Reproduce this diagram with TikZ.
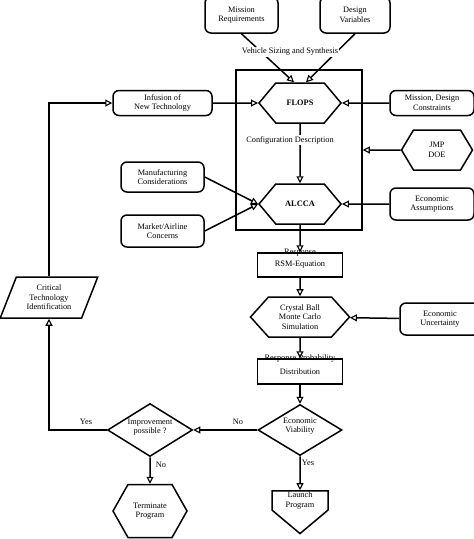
\documentclass[tikz,border=0pt]{standalone}
\usepackage{fontspec}
\setmainfont{Liberation Serif}
\usetikzlibrary{shapes.geometric,shapes.symbols,arrows.meta}

\begin{document}
\begin{tikzpicture}[x=1pt, y=-1pt, font=\fontsize{8.3}{9.5}\selectfont,
        every node/.style={align=center},
        rbox/.style={draw, line width=1.5pt, rounded corners=6pt, inner sep=1pt},
        sbox/.style={draw, line width=1.5pt, inner sep=1pt},
        hexa/.style={draw, line width=1.5pt, shape=signal, signal to=west and east, inner sep=1pt},
        decision/.style={draw, line width=1.5pt, shape=diamond, inner sep=0pt},
        arr/.style={line width=1.5pt, -{Triangle[open, length=7pt, width=7pt, line width=1.1pt]}},
        tag/.style={fill=white, inner sep=1pt}]
            \useasboundingbox (0, 0) rectangle (474, 539);

            % frame around sizing and costing
            \node[sbox, minimum width=126pt, minimum height=160pt] (frame) at (299, 150) {};

            \node[rbox, minimum width=73pt, minimum height=36pt] (mreq) at (241.5, 15) {Mission\\Requirements};
            \node[rbox, minimum width=70pt, minimum height=36pt] (dvar) at (355, 15) {Design\\Variables};
            \node[rbox, minimum width=99pt, minimum height=25pt] (infu) at (162.5, 103) {Infusion of\\New Technology};
            \node[rbox, minimum width=84pt, minimum height=25pt] (mdc) at (432, 103) {Mission, Design\\Constraints};
            \node[rbox, minimum width=83pt, minimum height=30pt] (mfg) at (162.5, 177) {Manufacturing\\Considerations};
            \node[rbox, minimum width=83pt, minimum height=32pt] (mkt) at (162.5, 231) {Market/Airline\\Concerns};
            \node[rbox, minimum width=84pt, minimum height=32pt] (eass) at (432, 204) {Economic\\Assumptions};
            \node[rbox, minimum width=80pt, minimum height=32pt] (eunc) at (440, 319) {Economic\\Uncertainty};

            \node[hexa, signal pointer angle=100, minimum width=82pt, minimum height=40pt] (flops) at (300, 103) {\textbf{FLOPS}};
            \node[hexa, signal pointer angle=100, minimum width=82pt, minimum height=40pt] (alcca) at (300, 204) {\textbf{ALCCA}};
            \node[hexa, signal pointer angle=118, minimum width=71pt, minimum height=40pt] (jmp) at (437, 150) {JMP\\DOE};
            \node[hexa, signal pointer angle=96, minimum width=99pt, minimum height=40pt] (cball) at (300, 317) {Crystal Ball\\Monte Carlo\\Simulation};
            \node[hexa, signal pointer angle=121, minimum width=74pt, minimum height=53pt] (term) at (150, 511) {Terminate\\Program};

            \node[sbox, minimum width=85pt, minimum height=24pt,
                label={[inner sep=0pt, anchor=center]north:Response}] (rsm) at (300, 265) {RSM-Equation};
            \node[sbox, minimum width=85pt, minimum height=25pt,
                label={[inner sep=0pt, anchor=center]north:Response Probability}] (rpd) at (300, 371.5) {Distribution};

            \node[decision, minimum width=84pt, minimum height=51pt,
                label={[align=center, yshift=4pt]center:Economic\\Viability}] (viab) at (300, 430) {};
            \node[decision, minimum width=85pt, minimum height=53pt,
                label={[align=center, yshift=3pt]center:Improvement\\possible ?}] (impr) at (150, 430) {};

            \node[draw, line width=1.5pt, shape=signal, signal to=south, signal pointer angle=100,
                minimum width=56pt, minimum height=32pt, inner sep=1pt] (launch) at (300, 500.5) {Launch\\Program};
            \node[draw, line width=1.5pt, shape=trapezium, trapezium left angle=66, trapezium right angle=114,
                trapezium stretches=true, minimum width=98pt, minimum height=41pt, inner sep=0pt] (crit) at (49, 297.5) {Critical\\Technology\\Identification};

            % connectors
            \draw[arr] (mreq.south) -- ([xshift=-6pt]flops.north);
            \draw[arr] (dvar.south) -- ([xshift=6pt]flops.north);
            \draw[arr] (infu) -- (flops);
            \draw[arr] (mdc) -- (flops);
            \draw[arr] (jmp) -- (frame.east);
            \draw[arr] (flops) -- (alcca);
            \draw[arr] (mfg.east) -- (alcca.west);
            \draw[arr] (mkt.east) -- (alcca.west);
            \draw[arr] (eass) -- (alcca);
            \draw[arr] (alcca) -- (rsm);
            \draw[arr] (rsm) -- (cball);
            \draw[arr] (eunc) -- (cball);
            \draw[arr] (cball) -- (rpd);
            \draw[arr] (rpd) -- (viab);
            \draw[arr] (viab) -- (impr);
            \draw[arr] (viab) -- (launch);
            \draw[arr] (impr) -- (term);
            \draw[arr] (impr.west) -| (crit);
            \draw[arr] (crit) |- (infu);

            % labels on top of the lines
            \node[tag] (vss) at (290, 52) {Vehicle Sizing and Synthesis};
            \node[tag] (cfg) at (290, 140) {Configuration Description};
            \node (yes1) at (86, 422) {Yes};
            \node (no1) at (238, 422) {No};
            \node (no2) at (161, 465) {No};
            \node (yes2) at (308, 463) {Yes};

        \end{tikzpicture}
\end{document}
